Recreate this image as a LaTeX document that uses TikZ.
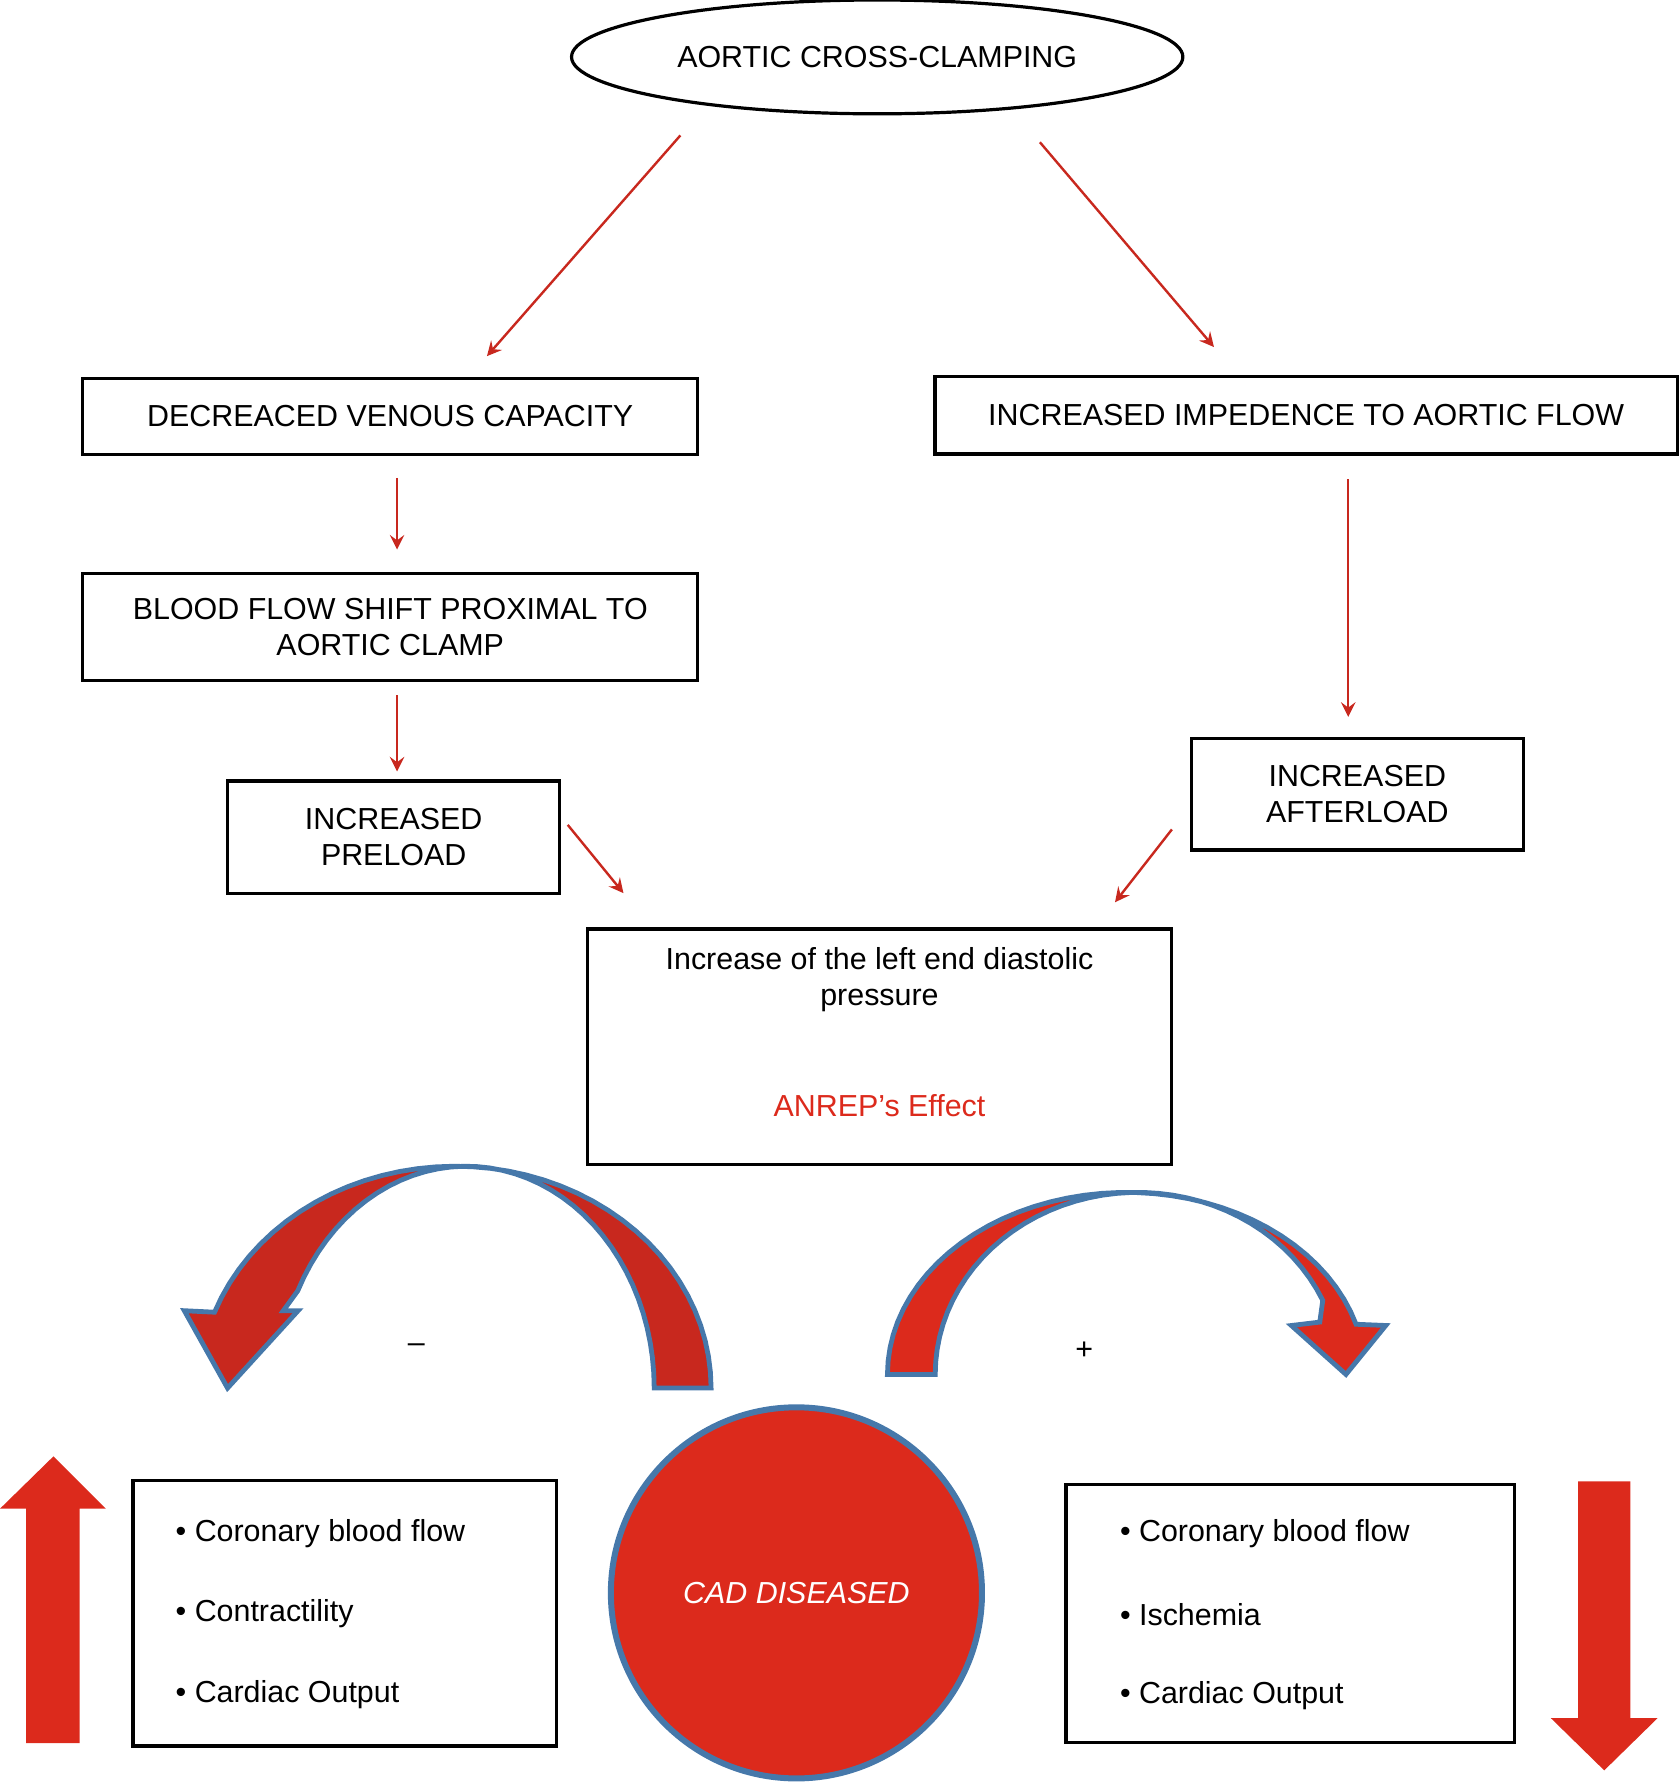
\documentclass[tikz,border=0pt]{standalone}
\usepackage{fontspec}
\setmainfont{Liberation Sans}
\usetikzlibrary{shapes.geometric}
\definecolor{arrred}{RGB}{200,40,30}
\definecolor{cadred}{RGB}{220,42,28}
\definecolor{edgeblue}{RGB}{70,120,170}
\tikzset{
  box/.style={draw, rectangle, thick, align=center, inner sep=0pt, font=\fontsize{7.6}{9}\selectfont},
  redarr/.style={->, >=stealth, arrred, semithick},
  curvarr/.style={fill=cadred, draw=edgeblue, line width=1.2pt},
  big/.style={fill=cadred, draw=none}
}
\begin{document}
\begin{tikzpicture}[x=0.01cm, y=-0.01cm]
  \useasboundingbox (0,0) rectangle (1476,1568);

  \node[draw, ellipse, thick, minimum width=5.37cm, minimum height=1cm, font=\fontsize{7.6}{9}\selectfont] (clamp) at (771,50) {AORTIC CROSS-CLAMPING};

  \node[box, minimum width=5.4cm, minimum height=0.67cm] (venous) at (343,366) {DECREACED VENOUS CAPACITY};
  \node[box, minimum width=6.52cm, minimum height=0.68cm] (imped) at (1148,365) {INCREASED IMPEDENCE TO AORTIC FLOW};
  \node[box, minimum width=5.4cm, minimum height=0.94cm] (shift) at (343,551) {BLOOD FLOW SHIFT PROXIMAL TO\\AORTIC CLAMP};
  \node[box, minimum width=2.92cm, minimum height=0.99cm] (preload) at (346,736) {INCREASED\\PRELOAD};
  \node[box, minimum width=2.92cm, minimum height=0.98cm] (afterload) at (1193,698) {INCREASED\\AFTERLOAD};
  \node[box, minimum width=5.13cm, minimum height=2.07cm] (lvedp) at (773,920) {};
  \node[font=\fontsize{7.6}{9}\selectfont, align=center] (lvtext) at (773,861) {Increase of the left end diastolic\\pressure};
  \node[font=\fontsize{7.6}{9}\selectfont, text=cadred] (anrep) at (773,972) {ANREP's Effect};

  \coordinate (a1) at (598,119); \coordinate (a2) at (428,313);
  \coordinate (b1) at (914,125); \coordinate (b2) at (1067,305);
  \coordinate (c1) at (349,420); \coordinate (c2) at (349,483);
  \coordinate (d1) at (349,611); \coordinate (d2) at (349,678);
  \coordinate (e1) at (1185,421); \coordinate (e2) at (1185,630);
  \coordinate (f1) at (499,725); \coordinate (f2) at (548,785);
  \coordinate (g1) at (1030,729); \coordinate (g2) at (980,793);
  \draw[redarr] (a1) -- (a2);
  \draw[redarr] (b1) -- (b2);
  \draw[redarr] (c1) -- (c2);
  \draw[redarr] (d1) -- (d2);
  \draw[redarr] (e1) -- (e2);
  \draw[redarr] (f1) -- (f2);
  \draw[redarr] (g1) -- (g2);

  % curved arrows
  \draw[curvarr, fill=arrred] plot[domain=0:160, samples=40] ({400+225*cos(\x)},{1220-195*sin(\x)})
    -- (162,1152) -- (200,1220) -- (262,1152) -- (249,1152)
    -- plot[domain=154:0, samples=40] ({410+165*cos(\x)},{1220-195*sin(\x)}) -- cycle;
  \draw[curvarr] plot[domain=180:16, samples=40] ({990+210*cos(\x)},{1208-160*sin(\x)})
    -- (1218,1165) -- (1183,1208) -- (1135,1165) -- (1160,1162)
    -- plot[domain=24:180, samples=40] ({1000+178*cos(\x)},{1208-160*sin(\x)}) -- cycle;
  \node[font=\fontsize{7.6}{9}\selectfont] (minus) at (366,1185) {--};
  \node[font=\fontsize{7.6}{9}\selectfont] (plus) at (953,1187) {+};

  \node[circle, fill=cadred, draw=edgeblue, line width=1.5pt, minimum size=3.26cm, text=white, font=\fontsize{7.6}{9}\selectfont\itshape] (cad) at (700,1400) {CAD DISEASED};

  \node[box, minimum width=3.72cm, minimum height=2.33cm] (left) at (303,1418) {};
  \node[box, minimum width=3.94cm, minimum height=2.27cm] (right) at (1134,1418) {};
  \foreach \t/\y [count=\i] in {Coronary blood flow/1348, Contractility/1418, Cardiac Output/1489}
    \node[anchor=west, font=\fontsize{7.6}{9}\selectfont] (l\i) at (142,\y) {\textbullet\ \t};
  \foreach \t/\y [count=\i] in {Coronary blood flow/1348, Ischemia/1419, Cardiac Output/1490}
    \node[anchor=west, font=\fontsize{7.6}{9}\selectfont] (r\i) at (972,\y) {\textbullet\ \t};

  \fill[big] (23,1532) -- (23,1326) -- (0,1326) -- (47,1280) -- (93,1326) -- (70,1326) -- (70,1532) -- cycle;
  \fill[big] (1387,1302) -- (1387,1510) -- (1363,1510) -- (1410,1556) -- (1457,1510) -- (1433,1510) -- (1433,1302) -- cycle;
\end{tikzpicture}
\end{document}
